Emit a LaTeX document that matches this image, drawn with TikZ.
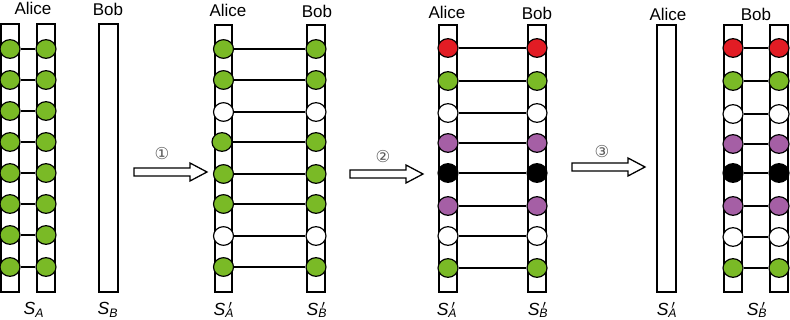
\documentclass[tikz,border=0pt]{standalone}
\usepackage{fontspec}
\setmainfont{Liberation Sans}
\newfontfamily\symfont{DejaVu Sans}
\usetikzlibrary{shapes.geometric}

\definecolor{qgreen}{RGB}{122,186,38}
\definecolor{qred}{RGB}{226,28,36}
\definecolor{qpurple}{RGB}{165,95,165}

\newcommand{\setS}[1]{\textit{S}\textsubscript{\textit{#1}}}
\newcommand{\setSp}[1]{\textit{S}\rlap{\,$'$}\textsubscript{\textit{#1}}}
\newcommand{\fatarrow}[2]{\draw[fat] (#1,#2) ++(0,-4) -- ++(56,0) -- ++(0,-5) -- ++(17,9) -- ++(-17,9) -- ++(0,-5) -- ++(-56,0) -- cycle;}

\tikzset{
  qubit/.style={ellipse, draw, line width=1pt, minimum width=0.6cm, minimum height=0.56cm, inner sep=0pt},
  gq/.style={qubit, fill=qgreen},
  rq/.style={qubit, fill=qred},
  pq/.style={qubit, fill=qpurple},
  kq/.style={qubit, fill=black},
  wq/.style={qubit, fill=white},
  bar/.style={line width=1.3pt},
  link/.style={line width=1pt},
  fat/.style={line width=1.1pt, fill=white},
  who/.style={font=\fontsize{14.5}{16}\selectfont},
  setname/.style={font=\fontsize{15}{17}\selectfont},
  stepno/.style={font=\symfont\fontsize{14}{16}\selectfont, text=black!65}
}

\begin{document}
\begin{tikzpicture}[x=0.03cm, y=-0.03cm]
      \useasboundingbox (0,0) rectangle (790,320);

      % panel 1: Alice holds both halves
      \draw[bar] (1,24) rectangle (19,292);
      \draw[bar] (37,24) rectangle (55,292);
      \draw[bar] (99,24) rectangle (118,292);
      \node[who] (alice1) at (33,8) {Alice};
      \node[who] (bob1) at (108,9) {Bob};
      \node[setname] (sa1) at (34,310) {\setS{A}};
      \node[setname] (sb1) at (108,310) {\setS{B}};

      \node[gq] (a1) at (10,49) {};  \node[gq] (b1) at (46,49) {};  \draw[link] (a1) -- (b1);
      \node[gq] (a2) at (10,80) {};  \node[gq] (b2) at (46,80) {};  \draw[link] (a2) -- (b2);
      \node[gq] (a3) at (10,111) {}; \node[gq] (b3) at (46,111) {}; \draw[link] (a3) -- (b3);
      \node[gq] (a4) at (10,142) {}; \node[gq] (b4) at (46,142) {}; \draw[link] (a4) -- (b4);
      \node[gq] (a5) at (10,173) {}; \node[gq] (b5) at (46,173) {}; \draw[link] (a5) -- (b5);
      \node[gq] (a6) at (10,204) {}; \node[gq] (b6) at (46,204) {}; \draw[link] (a6) -- (b6);
      \node[gq] (a7) at (10,235) {}; \node[gq] (b7) at (46,235) {}; \draw[link] (a7) -- (b7);
      \node[gq] (a8) at (10,267) {}; \node[gq] (b8) at (46,267) {}; \draw[link] (a8) -- (b8);

      \fatarrow{134}{172}
      \node[stepno] (step1) at (162,154) {①};

      % panel 2: halves shared
      \draw[bar] (215,25) rectangle (232,292);
      \draw[bar] (307,25) rectangle (325,292);
      \node[who] (alice2) at (228,10) {Alice};
      \node[who] (bob2) at (317,11) {Bob};
      \node[setname] (sa2) at (224,310) {\setSp{A}};
      \node[setname] (sb2) at (317,310) {\setSp{B}};

      \node[gq] (c1) at (223.5,49) {};  \node[gq] (d1) at (316,49) {};  \draw[link] (c1) -- (d1);
      \node[gq] (c2) at (223.5,80) {};  \node[gq] (d2) at (316,80) {};  \draw[link] (c2) -- (d2);
      \node[wq] (c3) at (223.5,112) {}; \node[wq] (d3) at (316,112) {}; \draw[link] (c3) -- (d3);
      \node[gq] (c4) at (222,142) {};   \node[gq] (d4) at (316,142) {}; \draw[link] (c4) -- (d4);
      \node[gq] (c5) at (223.5,174) {}; \node[gq] (d5) at (316,174) {}; \draw[link] (c5) -- (d5);
      \node[gq] (c6) at (223.5,204) {}; \node[gq] (d6) at (316,204) {}; \draw[link] (c6) -- (d6);
      \node[wq] (c7) at (223.5,236) {}; \node[wq] (d7) at (316,236) {}; \draw[link] (c7) -- (d7);
      \node[gq] (c8) at (223.5,267) {}; \node[gq] (d8) at (316,267) {}; \draw[link] (c8) -- (d8);

      \fatarrow{350}{174}
      \node[stepno] (step2) at (383,157) {②};

      % panel 3: classes marked
      \draw[bar] (439,25) rectangle (457,292);
      \draw[bar] (528,25) rectangle (546,292);
      \node[who] (alice3) at (447,12) {Alice};
      \node[who] (bob3) at (537,13) {Bob};
      \node[setname] (sa3) at (447,310) {\setSp{A}};
      \node[setname] (sb3) at (538,310) {\setSp{B}};

      \node[rq] (e1) at (448,48) {};  \node[rq] (f1) at (537,48) {};  \draw[link] (e1) -- (f1);
      \node[gq] (e2) at (448,81) {};  \node[gq] (f2) at (537,81) {};  \draw[link] (e2) -- (f2);
      \node[wq] (e3) at (448,113) {}; \node[wq] (f3) at (537,113) {}; \draw[link] (e3) -- (f3);
      \node[pq] (e4) at (448,143) {}; \node[pq] (f4) at (537,143) {}; \draw[link] (e4) -- (f4);
      \node[kq] (e5) at (448,173) {}; \node[kq] (f5) at (537,173) {}; \draw[link] (e5) -- (f5);
      \node[pq] (e6) at (448,206) {}; \node[pq] (f6) at (537,206) {}; \draw[link] (e6) -- (f6);
      \node[wq] (e7) at (448,236) {}; \node[wq] (f7) at (537,236) {}; \draw[link] (e7) -- (f7);
      \node[gq] (e8) at (448,268) {}; \node[gq] (f8) at (537,268) {}; \draw[link] (e8) -- (f8);

      \fatarrow{572}{167}
      \node[stepno] (step3) at (602,152) {③};

      % panel 4: Bob holds both halves
      \draw[bar] (657,25) rectangle (676,292);
      \draw[bar] (724,25) rectangle (742,292);
      \draw[bar] (770,25) rectangle (788,292);
      \node[who] (alice4) at (668,14) {Alice};
      \node[who] (bob4) at (756,14) {Bob};
      \node[setname] (sa4) at (667,310) {\setSp{A}};
      \node[setname] (sb4) at (757,310) {\setSp{B}};

      \node[rq] (g1) at (733,48) {};  \node[rq] (h1) at (779,48) {};  \draw[link] (g1) -- (h1);
      \node[gq] (g2) at (733,81) {};  \node[gq] (h2) at (779,81) {};  \draw[link] (g2) -- (h2);
      \node[wq] (g3) at (733,114) {}; \node[wq] (h3) at (779,114) {}; \draw[link] (g3) -- (h3);
      \node[pq] (g4) at (733,144) {}; \node[pq] (h4) at (779,144) {}; \draw[link] (g4) -- (h4);
      \node[kq] (g5) at (733,173) {}; \node[kq] (h5) at (779,173) {}; \draw[link] (g5) -- (h5);
      \node[pq] (g6) at (733,206) {}; \node[pq] (h6) at (779,206) {}; \draw[link] (g6) -- (h6);
      \node[wq] (g7) at (733,237) {}; \node[wq] (h7) at (779,237) {}; \draw[link] (g7) -- (h7);
      \node[gq] (g8) at (733,268) {}; \node[gq] (h8) at (779,268) {}; \draw[link] (g8) -- (h8);
\end{tikzpicture}
\end{document}
